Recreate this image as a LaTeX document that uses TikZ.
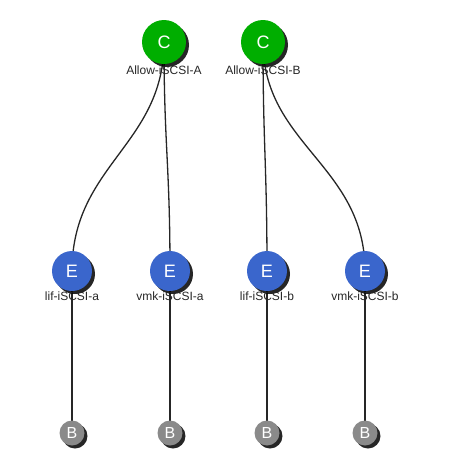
\documentclass[tikz,border=0pt]{standalone}
\usepackage{fontspec}
\setmainfont{Liberation Sans}
\usetikzlibrary{shadows,backgrounds}
\definecolor{contractgreen}{HTML}{00AE00}
\definecolor{epgblue}{HTML}{3A66CC}
\definecolor{bdgray}{HTML}{8A8A8A}
\begin{document}
\begin{tikzpicture}[
		x=1pt, y=-1pt,
		ball/.style={circle,inner sep=0pt,text=white,
			drop shadow={shadow xshift=3pt,shadow yshift=-3pt,opacity=0.85,fill=black}},
		contract/.style={ball,fill=contractgreen,minimum size=44pt,font=\fontsize{18}{18}\selectfont},
		epg/.style={ball,fill=epgblue,minimum size=40pt,font=\fontsize{18}{18}\selectfont},
		bdom/.style={ball,fill=bdgray,minimum size=25pt,font=\fontsize{16}{16}\selectfont},
		every label/.style={font=\fontsize{12}{13}\selectfont,inner sep=1pt,text=black!85},
		link/.style={draw=black!85,line width=1.3pt}
	]
	\useasboundingbox (0,0) rectangle (474,475);
	\node[contract,label={[label distance=0pt]below:Allow-iSCSI-A}] (ca) at (164,42) {C};
	\node[contract,label={[label distance=0pt]below:Allow-iSCSI-B}] (cb) at (263,42) {C};
	\foreach \x/\txt/\id in {72/lif-iSCSI-a/la,170/vmk-iSCSI-a/va,267/lif-iSCSI-b/lb,365/vmk-iSCSI-b/vb} {
		\node[epg,label={[label distance=-1pt]below:\txt}] (e\id) at (\x,271) {E};
		\node[bdom] (b\id) at (\x,433) {B};
	}
	\begin{scope}[on background layer]
		\draw[link] (ca.center) .. controls (164,145) and (72,165) .. (ela.center);
		\draw[link] (ca.center) .. controls (164,145) and (170,165) .. (eva.center);
		\draw[link] (cb.center) .. controls (263,145) and (267,165) .. (elb.center);
		\draw[link] (cb.center) .. controls (263,145) and (365,165) .. (evb.center);
		\foreach \id in {la,va,lb,vb}
			\draw[link] (e\id.center) -- (b\id.center);
	\end{scope}
\end{tikzpicture}
\end{document}
